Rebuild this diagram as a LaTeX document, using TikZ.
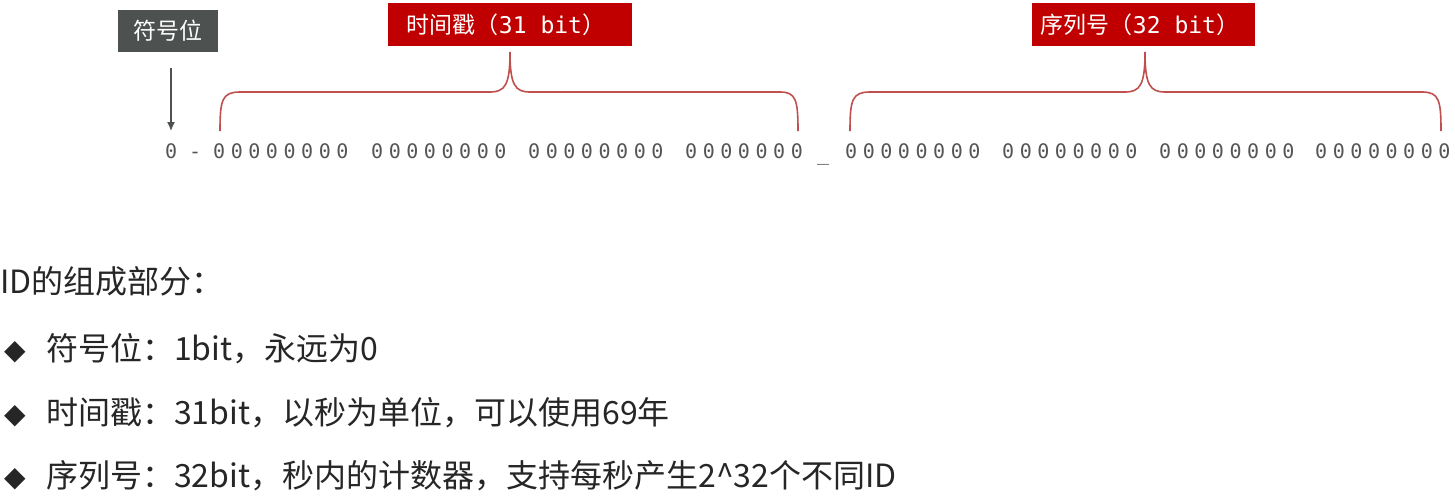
\documentclass[tikz,border=0pt]{standalone}
\usepackage{fontspec}
\usetikzlibrary{arrows.meta}
\setmainfont{Noto Sans CJK SC}
\newfontfamily\monof{DejaVu Sans Mono}
\newfontfamily\symf{DejaVu Sans}
\definecolor{brred}{HTML}{C0504D}
\definecolor{boxred}{HTML}{C00000}
\definecolor{boxgray}{HTML}{4D5250}
\definecolor{txt}{HTML}{262626}
\definecolor{bitc}{HTML}{555555}
\newcommand\zz{\makebox[17.6pt][l]{0}}
\begin{document}
\begin{tikzpicture}[x=1pt,y=-1pt,
  lab/.style={text=white,font=\fontsize{23}{26}\selectfont,inner sep=0pt,anchor=center},
  bits/.style={text=bitc,font=\monof\fontsize{20}{22}\selectfont,inner sep=0pt,anchor=base west},
  brace/.style={draw=brred,line width=1.6pt},
  line/.style={text=txt,font=\fontsize{32}{36}\selectfont,inner sep=0pt,anchor=base west},
  dia/.style={text=txt,font=\symf\fontsize{28}{30}\selectfont,inner sep=0pt,anchor=base west}]
\useasboundingbox (0,0) rectangle (1455,498);
% label boxes
\fill[boxgray] (118,10) rectangle (218,52);
\node[lab] (sign) at (168,31) {符号位};
\fill[boxred] (388,3) rectangle (632,46);
\node[lab] (ts) at (506,25) {时间戳（\monof 31 bit\rmfamily）};
\fill[boxred] (1032,3) rectangle (1255,46);
\node[lab] (seq) at (1140,25) {序列号（\monof 32 bit\rmfamily）};
\coordinate (sgtop) at (171,68);
\coordinate (sgbot) at (171,131);
\draw[draw=boxgray,line width=1.3pt,-{Latex[length=9pt,width=8pt]}] (sgtop) -- (sgbot);
% bits
\node[bits] (b0) at (165,158) {0\hspace{12pt}-};
\node[bits] (g1) at (213,158) {\zz\zz\zz\zz\zz\zz\zz\zz};
\node[bits] (g2) at (371,158) {\zz\zz\zz\zz\zz\zz\zz\zz};
\node[bits] (g3) at (528,158) {\zz\zz\zz\zz\zz\zz\zz\zz};
\node[bits] (g4) at (685,158) {\zz\zz\zz\zz\zz\zz\zz};
\node[bits] (us) at (817,160) {\_};
\node[bits] (g5) at (845,158) {\zz\zz\zz\zz\zz\zz\zz\zz};
\node[bits] (g6) at (1002,158) {\zz\zz\zz\zz\zz\zz\zz\zz};
\node[bits] (g7) at (1159,158) {\zz\zz\zz\zz\zz\zz\zz\zz};
\node[bits] (g8) at (1315,158) {\zz\zz\zz\zz\zz\zz\zz\zz};
% braces
\draw[brace] (220,131) .. controls (220,100) and (222,92) .. (240,92) -- (490,92)
  .. controls (505,92) and (510,85) .. (510,52)
  .. controls (510,85) and (515,92) .. (530,92) -- (780,92)
  .. controls (796,92) and (798,100) .. (798,131);
\draw[brace] (850,131) .. controls (850,100) and (852,92) .. (870,92) -- (1125,92)
  .. controls (1140,92) and (1145,85) .. (1145,52)
  .. controls (1145,85) and (1150,92) .. (1165,92) -- (1422,92)
  .. controls (1439,92) and (1441,100) .. (1441,131);
% text
\node[line] (l0) at (0,293) {ID的组成部分：};
\node[dia] (d1) at (4,359) {◆};
\node[line] (l1) at (46,360) {符号位：1bit，永远为0};
\node[dia] (d2) at (4,423) {◆};
\node[line] (l2) at (46,424) {时间戳：31bit，以秒为单位，可以使用69年};
\node[dia] (d3) at (4,486) {◆};
\node[line] (l3) at (46,487) {序列号：32bit，秒内的计数器，支持每秒产生2\^{}32个不同ID};
\end{tikzpicture}
\end{document}
